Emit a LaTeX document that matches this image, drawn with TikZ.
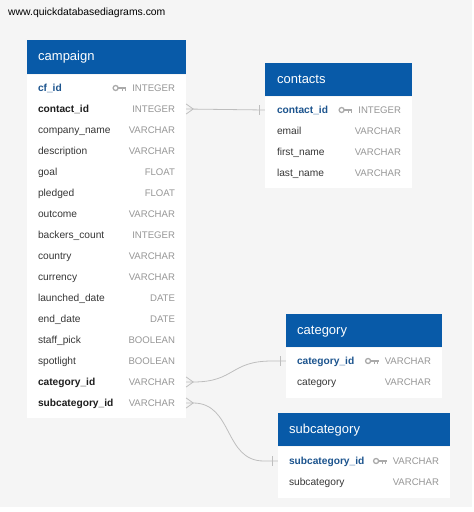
\documentclass[tikz,border=0pt]{standalone}
\usepackage{fontspec}
\setmainfont{Liberation Sans}
\usetikzlibrary{positioning}

\definecolor{qdbblue}{RGB}{8,90,168}
\definecolor{keyblue}{RGB}{28,84,142}
\definecolor{namegray}{RGB}{55,55,55}
\definecolor{fkblack}{RGB}{30,30,30}
\definecolor{typegray}{RGB}{150,150,150}
\definecolor{keygray}{RGB}{170,170,170}
\definecolor{linkgray}{RGB}{190,190,190}
\definecolor{bggray}{RGB}{245,245,245}

\newcommand{\qdbrow}{\fontsize{10.2}{12}\selectfont}
\newcommand{\qdbtype}{\fontsize{9.6}{12}\selectfont}

\tikzset{
  tblhead/.style={fill=qdbblue, inner sep=0pt, anchor=north west},
  tbltitle/.style={text=white, inner sep=0pt, font=\fontsize{13}{15}\selectfont, text height=9, text depth=2},
  tblbody/.style={fill=white, inner sep=0pt, anchor=north west},
  fieldrow/.style={inner sep=0pt, minimum height=21},
  fname/.style={inner sep=0pt, text=namegray, font=\qdbrow, text height=8, text depth=2},
  pkey/.style={fname, text=keyblue, font=\qdbrow\bfseries},
  fkey/.style={fname, text=fkblack, font=\qdbrow\bfseries},
  ftype/.style={fname, text=typegray, font=\qdbtype},
  link/.style={draw=linkgray, line width=0.8pt},
  keyicon/.pic={
    \draw[keygray, line width=1.3pt] (-10.5,0) circle (2.5);
    \draw[keygray, line width=1.5pt] (-8,0) -- (0,0);
    \draw[keygray, line width=1.1pt] (-3.8,0) -- (-3.8,2.8) (-1,0) -- (-1,2.8);
  }
}

\begin{document}
\begin{tikzpicture}[x=1pt, y=-1pt]
\useasboundingbox (0,0) rectangle (474,512);
\fill[bggray] (0,0) rectangle (474,512);
\fill[white] (0,507) rectangle (474,512);
\fill[white] (472,0) rectangle (474,512);

\node[anchor=west, inner sep=0pt, font=\fontsize{10.4}{12}\selectfont] (site) at (8,13) {www.quickdatabasediagrams.com};

% campaign
\node[tblhead, minimum width=159, minimum height=34] (campaign) at (27,40) {};
\node[tbltitle, right=11pt of campaign.west] (campaign-title) {campaign};
\node[tblbody, minimum width=159, minimum height=343] (campaign-body) at (campaign.south west) {};
\foreach \fname/\ftype/\fst [count=\i] in {cf\_id/INTEGER/pkey, contact\_id/INTEGER/fkey,
    company\_name/VARCHAR/fname, description/VARCHAR/fname, goal/FLOAT/fname, pledged/FLOAT/fname,
    outcome/VARCHAR/fname, backers\_count/INTEGER/fname, country/VARCHAR/fname, currency/VARCHAR/fname,
    launched\_date/DATE/fname, end\_date/DATE/fname, staff\_pick/BOOLEAN/fname, spotlight/BOOLEAN/fname,
    category\_id/VARCHAR/fkey, subcategory\_id/VARCHAR/fkey} {
  \node[fieldrow, minimum width=159] (cam\i) at (106.5,{67+21*\i}) {};
  \node[\fst, right=11pt of cam\i.west] (cam\i-n) {\fname};
  \node[ftype, left=11pt of cam\i.east] (cam\i-t) {\ftype};
}
\pic at ([xshift=-6pt]cam1-t.west) {keyicon};

% contacts
\node[tblhead, minimum width=147, minimum height=33] (contacts) at (265,63) {};
\node[tbltitle, right=12pt of contacts.west] (contacts-title) {contacts};
\node[tblbody, minimum width=147, minimum height=91] (contacts-body) at (contacts.south west) {};
\foreach \fname/\ftype/\fst [count=\i] in {contact\_id/INTEGER/pkey, email/VARCHAR/fname,
    first\_name/VARCHAR/fname, last\_name/VARCHAR/fname} {
  \node[fieldrow, minimum width=147] (con\i) at (338.5,{89+21*\i}) {};
  \node[\fst, right=12pt of con\i.west] (con\i-n) {\fname};
  \node[ftype, left=11pt of con\i.east] (con\i-t) {\ftype};
}
\pic at ([xshift=-6pt]con1-t.west) {keyicon};

% category
\node[tblhead, minimum width=156, minimum height=33] (category) at (286,314) {};
\node[tbltitle, right=11pt of category.west] (category-title) {category};
\node[tblbody, minimum width=156, minimum height=50] (category-body) at (category.south west) {};
\foreach \fname/\ftype/\fst [count=\i] in {category\_id/VARCHAR/pkey, category/VARCHAR/fname} {
  \node[fieldrow, minimum width=156] (cat\i) at (364,{340+21*\i}) {};
  \node[\fst, right=11pt of cat\i.west] (cat\i-n) {\fname};
  \node[ftype, left=11pt of cat\i.east] (cat\i-t) {\ftype};
}
\pic at ([xshift=-6pt]cat1-t.west) {keyicon};

% subcategory
\node[tblhead, minimum width=172, minimum height=33] (subcategory) at (278,413) {};
\node[tbltitle, right=11pt of subcategory.west] (subcategory-title) {subcategory};
\node[tblbody, minimum width=172, minimum height=51] (subcategory-body) at (subcategory.south west) {};
\foreach \fname/\ftype/\fst [count=\i] in {subcategory\_id/VARCHAR/pkey, subcategory/VARCHAR/fname} {
  \node[fieldrow, minimum width=172] (sub\i) at (364,{440+21*\i}) {};
  \node[\fst, right=11pt of sub\i.west] (sub\i-n) {\fname};
  \node[ftype, left=11pt of sub\i.east] (sub\i-t) {\ftype};
}
\pic at ([xshift=-6pt]sub1-t.west) {keyicon};

% relations
\draw[link] (cam2.east) -- (con1.west);
\draw[link] ([yshift=5pt]cam2.east) -- ([xshift=7pt]cam2.east) -- ([yshift=-5pt]cam2.east);
\draw[link] ([xshift=-5pt,yshift=5pt]con1.west) -- ([xshift=-5pt,yshift=-5pt]con1.west);

\draw[link] (cam15.east) -- ++(7,0) .. controls +(42,0) and +(-42,0) .. ([xshift=-14pt]cat1.west) -- (cat1.west);
\draw[link] ([yshift=5pt]cam15.east) -- ([xshift=7pt]cam15.east) -- ([yshift=-5pt]cam15.east);
\draw[link] ([xshift=-5pt,yshift=5pt]cat1.west) -- ([xshift=-5pt,yshift=-5pt]cat1.west);

\draw[link] (cam16.east) -- ++(7,0) .. controls +(40,0) and +(-40,0) .. ([xshift=-14pt]sub1.west) -- (sub1.west);
\draw[link] ([yshift=5pt]cam16.east) -- ([xshift=7pt]cam16.east) -- ([yshift=-5pt]cam16.east);
\draw[link] ([xshift=-5pt,yshift=5pt]sub1.west) -- ([xshift=-5pt,yshift=-5pt]sub1.west);
\end{tikzpicture}
\end{document}
